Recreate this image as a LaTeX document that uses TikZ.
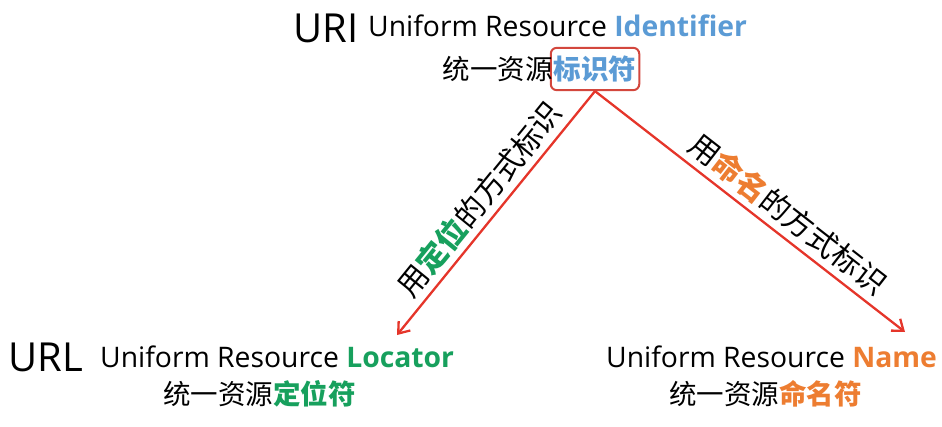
\documentclass[tikz,border=0pt]{standalone}
\usepackage{fontspec}
\setmainfont{Open Sans}
\newfontfamily\zhfont{Noto Sans CJK SC}
\usetikzlibrary{arrows.meta,positioning}
\definecolor{idblue}{HTML}{5B9BD5}
\definecolor{locgreen}{HTML}{17A05D}
\definecolor{nameorange}{HTML}{ED7D31}
\definecolor{linkred}{HTML}{E5352A}
\definecolor{boxred}{HTML}{D3473D}
\tikzset{
  abbr/.style={inner sep=0pt,font=\fontsize{40}{44}\selectfont},
  en/.style={inner sep=0pt,font=\fontsize{28.3}{32}\selectfont},
  zh/.style={inner sep=0pt,font=\zhfont\fontsize{27.5}{32}\selectfont},
  idbox/.style={draw=boxred,line width=2pt,rounded corners=6pt,inner xsep=3pt,inner ysep=8pt},
  link/.style={draw=linkred,line width=2.3pt,-{Straight Barb[length=10pt,width=15pt,line width=2.3pt]}},
  waylabel/.style={sloped,inner sep=6pt,font=\zhfont\fontsize{30}{34}\selectfont}
}
\begin{document}
\begin{tikzpicture}[x=1pt,y=1pt]
\useasboundingbox (0,0) rectangle (942,426);
% URI
\node[abbr,anchor=base west] (uri) at (293,383) {URI};
\node[en,anchor=base west] (urien) at (368,389) {Uniform Resource \textcolor{idblue}{\bfseries Identifier}};
\node[zh,idbox,text=idblue] (urimark) at (595,357) {\bfseries 标识符};
\node[zh,anchor=east] (urizh) at ([xshift=3pt]urimark.west) {统一资源};
% URL
\node[abbr,anchor=base west] (url) at (8,55) {URL};
\node[en,anchor=base west] (urlen) at (100,59) {Uniform Resource \textcolor{locgreen}{\bfseries Locator}};
\node[zh,anchor=west] (urlzh) at (163,32) {统一资源\textcolor{locgreen}{\bfseries 定位符}};
% URN
\node[en,anchor=base west] (urnen) at (606,59) {Uniform Resource \textcolor{nameorange}{\bfseries Name}};
\node[zh,anchor=west] (urnzh) at (669,32) {统一资源\textcolor{nameorange}{\bfseries 命名符}};
% arrows
\coordinate (urltip) at (397,91);
\coordinate (urntip) at (905,94);
\draw[link] (urimark.south) -- node[waylabel,pos=0.5,above] {用\textcolor{locgreen}{\bfseries 定位}的方式标识} (urltip);
\draw[link] (urimark.south) -- node[waylabel,pos=0.58,above] {用\textcolor{nameorange}{\bfseries 命名}的方式标识} (urntip);
\end{tikzpicture}
\end{document}
